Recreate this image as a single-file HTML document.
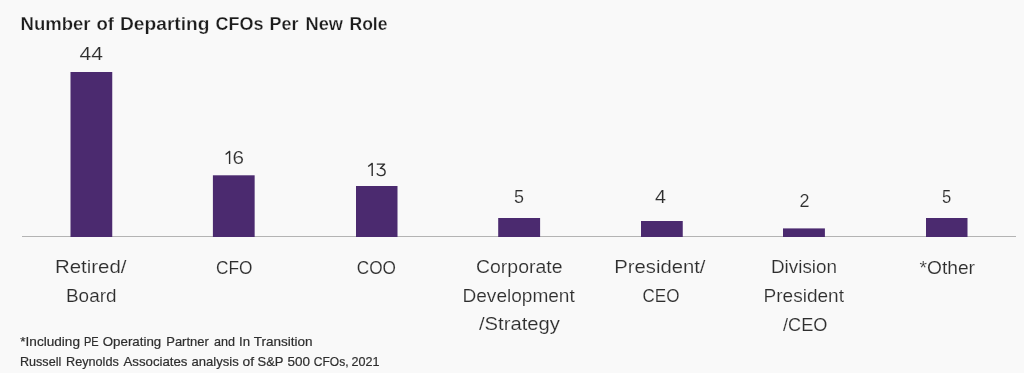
<!DOCTYPE html>
<html><head><meta charset="utf-8">
<style>
html,body{margin:0;padding:0;background:#f9f9f9;overflow:hidden;}
svg{display:block;}
text{font-family:"Liberation Sans",sans-serif;}
svg{will-change:transform;}
</style></head>
<body>
<svg width="1024" height="373" viewBox="0 0 1024 373">
<rect x="0" y="0" width="1024" height="373" fill="#f9f9f9"/>
<rect x="22" y="236" width="994" height="1" fill="#b4b4b4"/>
<g fill="#4b2a6f">
<rect x="70.5" y="72" width="41.75" height="165.00"/>
<rect x="212.9" y="175.3" width="41.75" height="61.70"/>
<rect x="356" y="186" width="41.50" height="51.00"/>
<rect x="498.2" y="218" width="41.90" height="19.00"/>
<rect x="641" y="221" width="41.75" height="16.00"/>
<rect x="783" y="228.4" width="41.90" height="8.60"/>
<rect x="926" y="218" width="41.50" height="19.00"/>
</g>
<g fill="none" stroke="#2e2e2e" stroke-width="1.4" stroke-linejoin="round">
<path d="M225.6,154.5 L229.6,151.4 V164"/>
<path d="M368.2,166.5 L372.2,163.4 V176"/>
<path d="M376.8,164.1 H384.6 L380.4,168.4 C383.3,168.3 385.1,169.9 385.1,172 C385.1,174.2 383.3,175.6 380.9,175.6 C379,175.6 377.6,174.8 376.9,173.3"/>
</g>
<text x="20.50" y="29.7" font-size="18" font-weight="700" fill="#1c1c1c" stroke="#f9f9f9" stroke-width="0.25" textLength="70.00" lengthAdjust="spacingAndGlyphs">Number</text>
<text x="96.50" y="29.7" font-size="18" font-weight="700" fill="#1c1c1c" stroke="#f9f9f9" stroke-width="0.25" textLength="17.50" lengthAdjust="spacingAndGlyphs">of</text>
<text x="120.00" y="29.7" font-size="18" font-weight="700" fill="#1c1c1c" stroke="#f9f9f9" stroke-width="0.25" textLength="89.50" lengthAdjust="spacingAndGlyphs">Departing</text>
<text x="215.50" y="29.7" font-size="18" font-weight="700" fill="#1c1c1c" stroke="#f9f9f9" stroke-width="0.25" textLength="48.00" lengthAdjust="spacingAndGlyphs">CFOs</text>
<text x="269.50" y="29.7" font-size="18" font-weight="700" fill="#1c1c1c" stroke="#f9f9f9" stroke-width="0.25" textLength="29.00" lengthAdjust="spacingAndGlyphs">Per</text>
<text x="305.50" y="29.7" font-size="18" font-weight="700" fill="#1c1c1c" stroke="#f9f9f9" stroke-width="0.25" textLength="37.50" lengthAdjust="spacingAndGlyphs">New</text>
<text x="349.50" y="29.7" font-size="18" font-weight="700" fill="#1c1c1c" stroke="#f9f9f9" stroke-width="0.25" textLength="38.00" lengthAdjust="spacingAndGlyphs">Role</text>
<text x="79.50" y="60" font-size="18" font-weight="400" fill="#2e2e2e" stroke="#f9f9f9" stroke-width="0.15" textLength="23.50" lengthAdjust="spacingAndGlyphs">44</text>
<text x="232.50" y="164" font-size="18" font-weight="400" fill="#2e2e2e" stroke="#f9f9f9" stroke-width="0.15" textLength="11.50" lengthAdjust="spacingAndGlyphs">6</text>
<text x="514.00" y="202.7" font-size="18" font-weight="400" fill="#2e2e2e" stroke="#f9f9f9" stroke-width="0.15" textLength="10.00" lengthAdjust="spacingAndGlyphs">5</text>
<text x="655.00" y="202.7" font-size="18" font-weight="400" fill="#2e2e2e" stroke="#f9f9f9" stroke-width="0.15" textLength="11.00" lengthAdjust="spacingAndGlyphs">4</text>
<text x="799.50" y="206.7" font-size="18" font-weight="400" fill="#2e2e2e" stroke="#f9f9f9" stroke-width="0.15" textLength="10.00" lengthAdjust="spacingAndGlyphs">2</text>
<text x="942.00" y="202.7" font-size="18" font-weight="400" fill="#2e2e2e" stroke="#f9f9f9" stroke-width="0.15" textLength="9.25" lengthAdjust="spacingAndGlyphs">5</text>
<text x="55.00" y="273.2" font-size="18" font-weight="400" fill="#2e2e2e" stroke="#f9f9f9" stroke-width="0.15" textLength="71.50" lengthAdjust="spacingAndGlyphs">Retired/</text>
<text x="66.00" y="301.75" font-size="18" font-weight="400" fill="#2e2e2e" stroke="#f9f9f9" stroke-width="0.15" textLength="50.50" lengthAdjust="spacingAndGlyphs">Board</text>
<text x="216.00" y="273.5" font-size="18" font-weight="400" fill="#2e2e2e" stroke="#f9f9f9" stroke-width="0.15" textLength="36.50" lengthAdjust="spacingAndGlyphs">CFO</text>
<text x="356.75" y="273.5" font-size="18" font-weight="400" fill="#2e2e2e" stroke="#f9f9f9" stroke-width="0.15" textLength="39.25" lengthAdjust="spacingAndGlyphs">COO</text>
<text x="476.00" y="273.1" font-size="18" font-weight="400" fill="#2e2e2e" stroke="#f9f9f9" stroke-width="0.15" textLength="86.50" lengthAdjust="spacingAndGlyphs">Corporate</text>
<text x="462.50" y="301.75" font-size="18" font-weight="400" fill="#2e2e2e" stroke="#f9f9f9" stroke-width="0.15" textLength="112.25" lengthAdjust="spacingAndGlyphs">Development</text>
<text x="479.00" y="330.3" font-size="18" font-weight="400" fill="#2e2e2e" stroke="#f9f9f9" stroke-width="0.15" textLength="81.00" lengthAdjust="spacingAndGlyphs">/Strategy</text>
<text x="614.30" y="273.1" font-size="18" font-weight="400" fill="#2e2e2e" stroke="#f9f9f9" stroke-width="0.15" textLength="91.20" lengthAdjust="spacingAndGlyphs">President/</text>
<text x="642.50" y="301.75" font-size="18" font-weight="400" fill="#2e2e2e" stroke="#f9f9f9" stroke-width="0.15" textLength="37.00" lengthAdjust="spacingAndGlyphs">CEO</text>
<text x="771.00" y="273" font-size="18" font-weight="400" fill="#2e2e2e" stroke="#f9f9f9" stroke-width="0.15" textLength="66.00" lengthAdjust="spacingAndGlyphs">Division</text>
<text x="763.50" y="301.6" font-size="18" font-weight="400" fill="#2e2e2e" stroke="#f9f9f9" stroke-width="0.15" textLength="80.50" lengthAdjust="spacingAndGlyphs">President</text>
<text x="783.00" y="330.6" font-size="18" font-weight="400" fill="#2e2e2e" stroke="#f9f9f9" stroke-width="0.15" textLength="44.50" lengthAdjust="spacingAndGlyphs">/CEO</text>
<text x="919.50" y="273.6" font-size="18" font-weight="400" fill="#2e2e2e" stroke="#f9f9f9" stroke-width="0.15" textLength="55.50" lengthAdjust="spacingAndGlyphs">*Other</text>
<text x="20.25" y="345.8" font-size="13" font-weight="400" fill="#2e2e2e" stroke="#2e2e2e" stroke-width="0.2" textLength="59.75" lengthAdjust="spacingAndGlyphs">*Including</text>
<text x="84.00" y="345.8" font-size="13" font-weight="400" fill="#2e2e2e" stroke="#2e2e2e" stroke-width="0.2" textLength="14.75" lengthAdjust="spacingAndGlyphs">PE</text>
<text x="102.75" y="345.8" font-size="13" font-weight="400" fill="#2e2e2e" stroke="#2e2e2e" stroke-width="0.2" textLength="58.50" lengthAdjust="spacingAndGlyphs">Operating</text>
<text x="166.25" y="345.8" font-size="13" font-weight="400" fill="#2e2e2e" stroke="#2e2e2e" stroke-width="0.2" textLength="42.50" lengthAdjust="spacingAndGlyphs">Partner</text>
<text x="214.00" y="345.8" font-size="13" font-weight="400" fill="#2e2e2e" stroke="#2e2e2e" stroke-width="0.2" textLength="21.00" lengthAdjust="spacingAndGlyphs">and</text>
<text x="239.00" y="345.8" font-size="13" font-weight="400" fill="#2e2e2e" stroke="#2e2e2e" stroke-width="0.2" textLength="11.00" lengthAdjust="spacingAndGlyphs">In</text>
<text x="253.75" y="345.8" font-size="13" font-weight="400" fill="#2e2e2e" stroke="#2e2e2e" stroke-width="0.2" textLength="58.75" lengthAdjust="spacingAndGlyphs">Transition</text>
<text x="20.00" y="365.5" font-size="13" font-weight="400" fill="#2e2e2e" stroke="#2e2e2e" stroke-width="0.2" textLength="41.25" lengthAdjust="spacingAndGlyphs">Russell</text>
<text x="66.00" y="365.5" font-size="13" font-weight="400" fill="#2e2e2e" stroke="#2e2e2e" stroke-width="0.2" textLength="52.75" lengthAdjust="spacingAndGlyphs">Reynolds</text>
<text x="123.50" y="365.5" font-size="13" font-weight="400" fill="#2e2e2e" stroke="#2e2e2e" stroke-width="0.2" textLength="64.00" lengthAdjust="spacingAndGlyphs">Associates</text>
<text x="191.50" y="365.5" font-size="13" font-weight="400" fill="#2e2e2e" stroke="#2e2e2e" stroke-width="0.2" textLength="47.25" lengthAdjust="spacingAndGlyphs">analysis</text>
<text x="242.50" y="365.5" font-size="13" font-weight="400" fill="#2e2e2e" stroke="#2e2e2e" stroke-width="0.2" textLength="11.50" lengthAdjust="spacingAndGlyphs">of</text>
<text x="257.50" y="365.5" font-size="13" font-weight="400" fill="#2e2e2e" stroke="#2e2e2e" stroke-width="0.2" textLength="26.00" lengthAdjust="spacingAndGlyphs">S&amp;P</text>
<text x="287.50" y="365.5" font-size="13" font-weight="400" fill="#2e2e2e" stroke="#2e2e2e" stroke-width="0.2" textLength="22.50" lengthAdjust="spacingAndGlyphs">500</text>
<text x="313.75" y="365.5" font-size="13" font-weight="400" fill="#2e2e2e" stroke="#2e2e2e" stroke-width="0.2" textLength="34.75" lengthAdjust="spacingAndGlyphs">CFOs,</text>
<text x="351.50" y="365.5" font-size="13" font-weight="400" fill="#2e2e2e" stroke="#2e2e2e" stroke-width="0.2" textLength="28.00" lengthAdjust="spacingAndGlyphs">2021</text>
</svg>
</body></html>
